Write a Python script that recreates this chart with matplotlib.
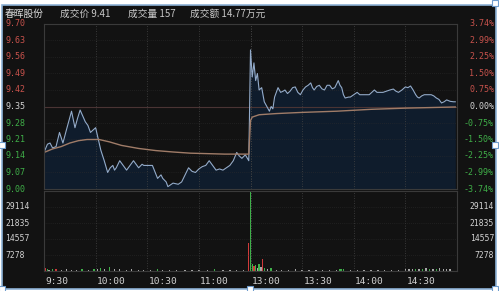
import matplotlib.pyplot as plt
from matplotlib.patches import Rectangle
from matplotlib.transforms import blended_transform_factory

W, H = 499, 291

# minutes after 9:30 (0-120 morning, 120-240 afternoon)
price_min = [0, 2, 3.5, 5, 7, 9, 11, 13, 16, 18, 19.5, 21, 24, 25.5, 27, 30, 33, 35, 37, 38.5,
             40, 41, 42, 44, 46, 48, 50, 52, 54, 55, 57, 58, 61, 63, 66, 68, 69, 71, 72, 74,
             75, 78, 80, 82, 84, 86, 88, 90, 92, 94, 96, 98, 100, 102, 104, 106, 108, 110, 112, 113.5,
             115, 117, 119,
             120, 121, 122, 123, 124, 125, 126.5, 128, 129.5, 131, 132, 133, 134, 136, 137.5, 139,
             140, 141.5, 143, 144.5, 146, 147.5, 149, 150.5, 152, 153.5, 155, 156, 157, 158.5, 160,
             161.5, 163, 164.5, 166, 167.5, 169, 170, 171, 172, 173, 174, 175, 177, 178, 180,
             182, 183.5, 185, 187, 189, 190.5, 192, 193.5, 195, 197, 199, 201, 203, 204.5, 206,
             208, 210, 211.5, 213, 214.5, 216, 217, 218, 219.5, 221, 223, 225, 226.5, 228, 229.5,
             231, 232.5, 234, 236, 238, 239]
price_val = [9.155, 9.19, 9.195, 9.174, 9.18, 9.24, 9.195, 9.25, 9.33, 9.26, 9.30, 9.335, 9.285, 9.27, 9.24, 9.26, 9.165, 9.12, 9.07, 9.09,
             9.10, 9.08, 9.09, 9.12, 9.10, 9.08, 9.10, 9.12, 9.10, 9.09, 9.105, 9.10, 9.10, 9.10, 9.045, 9.06, 9.045, 9.03, 9.01, 9.02,
             9.025, 9.02, 9.03, 9.06, 9.09, 9.075, 9.07, 9.085, 9.095, 9.10, 9.12, 9.10, 9.08, 9.085, 9.08, 9.09, 9.10, 9.12, 9.155, 9.14,
             9.13, 9.145, 9.12,
             9.59, 9.475, 9.535, 9.46, 9.49, 9.42, 9.43, 9.37, 9.35, 9.33, 9.35, 9.34, 9.39, 9.43, 9.41, 9.415,
             9.42, 9.405, 9.415, 9.43, 9.433, 9.41, 9.40, 9.42, 9.433, 9.44, 9.45, 9.43, 9.42, 9.435, 9.44,
             9.425, 9.42, 9.44, 9.44, 9.425, 9.43, 9.445, 9.46, 9.44, 9.43, 9.40, 9.386, 9.39, 9.39, 9.40,
             9.41, 9.40, 9.40, 9.40, 9.40, 9.41, 9.42, 9.41, 9.41, 9.41, 9.415, 9.42, 9.424, 9.415, 9.41,
             9.42, 9.433, 9.43, 9.437, 9.42, 9.40, 9.39, 9.386, 9.395, 9.40, 9.40, 9.40, 9.395, 9.386, 9.38,
             9.365, 9.37, 9.378, 9.372, 9.37, 9.37]

avg_min = [0, 5, 10, 15, 20, 25, 32, 38, 45, 55, 65, 75, 85, 95, 105, 119,
           120, 121, 125, 135, 150, 170, 190, 210, 239]
avg_val = [9.155, 9.17, 9.18, 9.195, 9.205, 9.21, 9.21, 9.20, 9.185, 9.172, 9.163, 9.157, 9.152, 9.15, 9.148, 9.148,
           9.29, 9.305, 9.315, 9.32, 9.325, 9.33, 9.338, 9.343, 9.348]

vol_min = [0, 1, 2, 3, 5, 7, 10, 13, 16, 19, 22, 26, 29, 31, 33, 35, 38, 41, 44, 48,
           51, 55, 58, 62, 66, 69, 73, 77, 82, 86, 90, 95, 99, 104, 108, 112, 116,
           119, 120, 121, 122, 123, 124, 125, 126, 127, 128, 130, 132, 135, 138, 142, 146, 150, 154,
           158, 162, 166, 170, 172, 173, 174, 178, 182, 186, 190, 194, 198, 202, 206, 210, 212, 214,
           216, 218, 220, 222, 224, 226, 228, 230, 232, 234, 236]
vol_val = [3600, 1200, 800, 600, 1100, 900, 500, 700, 400, 600, 800, 500, 900, 700, 1200, 1000, 2000, 900, 700, 500,
           900, 600, 400, 500, 800, 500, 400, 600, 400, 500, 400, 500, 900, 400, 500, 400, 600,
           12700, 36000, 3000, 2500, 2800, 1500, 3000, 2000, 5400, 1500, 1000, 1200, 500, 600, 400, 700, 500, 400,
           600, 500, 400, 600, 900, 1000, 800, 500, 400, 500, 400, 600, 400, 500, 400, 700, 900, 800,
           1100, 900, 1000, 1200, 900, 1100, 1000, 1300, 900, 1000, 700]
vol_dir = ['w', 'r', 'g', 'w', 'g', 'r', 'w', 'w', 'w', 'w', 'g', 'w', 'g', 'w', 'g', 'w', 'g', 'w', 'w', 'w',
           'w', 'w', 'w', 'w', 'g', 'w', 'w', 'w', 'w', 'w', 'w', 'w', 'g', 'w', 'w', 'w', 'w',
           'r', 'g', 'g', 'r', 'g', 'w', 'g', 'w', 'r', 'g', 'w', 'g', 'w', 'w', 'w', 'w', 'w', 'w',
           'w', 'w', 'w', 'w', 'g', 'g', 'g', 'w', 'w', 'w', 'w', 'w', 'w', 'w', 'w', 'w', 'w', 'w',
           'g', 'w', 'g', 'w', 'g', 'w', 'g', 'w', 'w', 'w', 'w']

pre_close = 9.35
price_ticks = [9.70, 9.63, 9.56, 9.49, 9.42, 9.35, 9.28, 9.21, 9.14, 9.07, 9.00]
pct_labels = ['3.74%', '2.99%', '2.25%', '1.50%', '0.75%', '0.00%',
              '-0.75%', '-1.50%', '-2.25%', '-2.99%', '-3.74%']
vol_ticks = [29114, 21835, 14557, 7278]
time_ticks = [0, 30, 60, 90, 120, 150, 180, 210]
time_labels = ['9:30', '10:00', '10:30', '11:00', '13:00', '13:30', '14:00', '14:30']

RED = '#c8524c'
GREEN = '#3fae48'
WHITE = '#d2d2d2'
bar_colors = {'r': '#d03a3a', 'g': '#3fb04a', 'w': '#a8a8a8'}
mono = 'DejaVu Sans Mono'


def add_ax(x0, y0, x1, y1):
    return fig.add_axes([x0 / W, 1 - y1 / H, (x1 - x0) / W, (y1 - y0) / H])


fig = plt.figure(figsize=(W / 100, H / 100), dpi=100, facecolor='white')
fig.patches.append(Rectangle((2 / W, 1 - 289 / H), 494 / W, 284 / H, transform=fig.transFigure,
                             facecolor='#121212', edgecolor='#8db2d6', lw=1.2, zorder=-10))
# selection handles of the screenshot
for hx, hy in [(2, 145), (495, 145), (250, 289), (495, 289), (2, 289), (495, 3)]:
    fig.patches.append(Rectangle(((hx - 3) / W, 1 - (hy + 3) / H), 6 / W, 6 / H, transform=fig.transFigure,
                                 facecolor='white', edgecolor='#6f9ccc', lw=0.8, zorder=5))

ax = add_ax(44, 24, 457, 189)
axv = add_ax(44, 191, 457, 271)

for a in (ax, axv):
    a.set_facecolor('#121212')
    a.set_xlim(0, 240)
    a.set_xticks([])
    a.set_yticks([])
    for s in a.spines.values():
        s.set_color('#3a3a3a')
        s.set_linewidth(0.8)
    for t in time_ticks[1:] + [120]:
        a.axvline(t, color='#444444', lw=0.6, ls=(0, (1, 2)))

ax.set_ylim(9.00, 9.70)
for p in price_ticks[1:-1]:
    if p == pre_close:
        ax.axhline(p, color='#4a3434', lw=0.8)
    else:
        ax.axhline(p, color='#2c2c2c', lw=0.5, ls=(0, (1, 2)))

ax.fill_between(price_min, price_val, 9.0, color='#0f1c2c', lw=0)
ax.plot(price_min, price_val, color='#93abca', lw=0.8)
ax.plot(avg_min, avg_val, color='#a07c68', lw=1.0)

axv.set_ylim(0, 36392)
for v in vol_ticks:
    axv.axhline(v, color='#2c2c2c', lw=0.5, ls=(0, (1, 2)))
axv.bar(vol_min, vol_val, width=0.8, color=[bar_colors[d] for d in vol_dir], lw=0)

# price axis labels (left) and percent labels (right)
tl = blended_transform_factory(fig.transFigure, ax.transData)
for p, pct in zip(price_ticks, pct_labels):
    if p > pre_close:
        c = RED
    elif p < pre_close:
        c = GREEN
    else:
        c = WHITE
    ax.text(5 / W, p, f'{p:.2f}', transform=tl, color=c, fontsize=6, family=mono,
            ha='left', va='center', clip_on=False)
    ax.text(494 / W, p, pct, transform=tl, color=c, fontsize=6, family=mono,
            ha='right', va='center', clip_on=False)

tv = blended_transform_factory(fig.transFigure, axv.transData)
for v in vol_ticks:
    axv.text(5 / W, v, str(v), transform=tv, color=WHITE, fontsize=5.8, family=mono,
             ha='left', va='center', clip_on=False)
    axv.text(494 / W, v, str(v), transform=tv, color=WHITE, fontsize=5.8, family=mono,
             ha='right', va='center', clip_on=False)

tt = blended_transform_factory(axv.transData, fig.transFigure)
for t, lab in zip(time_ticks, time_labels):
    axv.text(t + 0.8, 1 - 281 / H, lab, transform=tt, color=WHITE, fontsize=6.8, family=mono,
             ha='left', va='center', clip_on=False)

# header
cjk = ['Noto Sans CJK SC', 'DejaVu Sans']
fig.text(5 / W, 1 - 14 / H, '春晖股份', color='#e0e0e0', fontsize=7, family=cjk, va='center')
fig.text(60 / W, 1 - 14 / H, '成交价 9.41', color='#c8c8c8', fontsize=7, family=cjk, va='center')
fig.text(128 / W, 1 - 14 / H, '成交量 157', color='#c8c8c8', fontsize=7, family=cjk, va='center')
fig.text(190 / W, 1 - 14 / H, '成交额 14.77万元', color='#c8c8c8', fontsize=7, family=cjk, va='center')

fig.savefig('out.png', dpi=100, facecolor='white')
